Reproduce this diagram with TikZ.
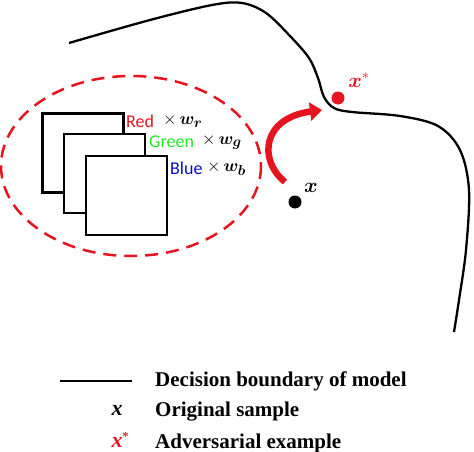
\documentclass[tikz,border=0pt]{standalone}
\usepackage{bm}
\usepackage{fontspec}
\setmainfont{Liberation Serif}
\newfontfamily\carlfont{Carlito}
\usetikzlibrary{arrows.meta}
\definecolor{myred}{RGB}{230,20,30}
\definecolor{mygreen}{RGB}{40,230,40}
\definecolor{myblue}{RGB}{10,10,200}
\tikzset{
  chan/.style={draw=black, line width=2.4pt, fill=white, minimum width=81pt, minimum height=79pt, inner sep=0pt},
  clab/.style={font=\carlfont\fontsize{18}{18}\selectfont, inner sep=0pt, anchor=west},
  wlab/.style={font=\fontsize{19}{19}\selectfont, inner sep=0pt, anchor=west},
  legtxt/.style={font=\bfseries\fontsize{21}{21}\selectfont, inner sep=0pt, anchor=west},
  dot/.style={circle, inner sep=0pt, minimum size=13pt},
}
\begin{document}
\begin{tikzpicture}[x=1pt,y=-1pt]
\useasboundingbox (0,0) rectangle (474,452);
% decision boundary
\draw[line width=2.3pt, line join=round] plot[smooth, tension=0.55] coordinates {(69,43) (150,20) (212,5) (242,3) (266,13) (290,36) (309,58) (318,78) (324,97) (334,108) (352,112) (400,116) (438,126) (460,150) (469,190) (466,250) (459,300) (454,332)};
% dashed ellipse
\draw[myred, line width=2.5pt, dash pattern=on 13pt off 8pt] (131,166) ellipse [x radius=130, y radius=90];
% channels
\node[chan] (r) at (83,153) {};
\node[chan] (g) at (104.5,173.5) {};
\node[chan] (b) at (126.5,195.5) {};
\node[clab, text=myred] (rl) at (126,121) {Red};
\node[wlab] (rw) at (163,121) {$\times\,\bm{w_r}$};
\node[clab, text=mygreen] (gl) at (149,142) {Green};
\node[wlab] (gw) at (202,142) {$\times\,\bm{w_g}$};
\node[clab, text=myblue] (bl) at (170,168) {Blue};
\node[wlab] (bw) at (207,168) {$\times\,\bm{w_b}$};
% points
\node[dot, fill=black] (x) at (295,202) {};
\node[inner sep=0pt, font=\fontsize{22}{22}\selectfont] (xl) at (311,188) {$\bm{x}$};
\node[dot, fill=myred] (xs) at (338,98) {};
\node[inner sep=0pt, font=\fontsize{22}{22}\selectfont, text=myred] (xsl) at (359,80) {$\bm{x}^{*}$};
% arrow
\coordinate (at) at (285,182);
\coordinate (ah) at (322,110);
\draw[myred, line width=6.5pt, -{Triangle[width=18pt,length=12pt]}] (at) .. controls (258,160) and (262,118) .. (ah);
% legend
\coordinate (l1) at (60,381);
\coordinate (l2) at (132,381);
\draw[line width=2.6pt] (l1) -- (l2);
\node[legtxt] (t1) at (155,381) {Decision boundary of model};
\node[inner sep=0pt, font=\bfseries\itshape\fontsize{22}{22}\selectfont] (lx) at (117,410) {x};
\node[legtxt] (t2) at (155,412) {Original sample};
\node[inner sep=0pt, text=myred] (lxs) at (120,440) {\fontsize{22}{22}\selectfont\textbf{\textit{x}}\raisebox{7pt}{\fontsize{12}{12}\selectfont\textbf{*}}};
\node[legtxt] (t3) at (155,443) {Adversarial example};
\end{tikzpicture}
\end{document}
